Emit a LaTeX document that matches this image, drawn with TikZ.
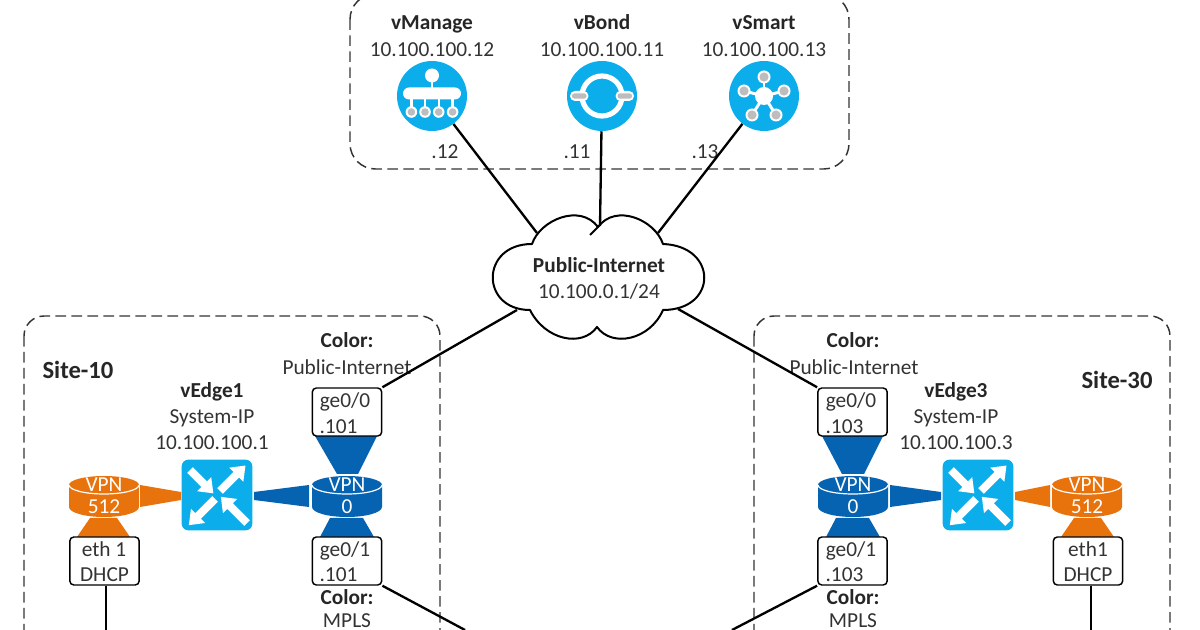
\documentclass[tikz,border=0pt]{standalone}
\usepackage{fontspec}
\setmainfont{Carlito}
\definecolor{iconcyan}{HTML}{0BAEEB}
\definecolor{vpnblue}{HTML}{0563B2}
\definecolor{vpnorange}{HTML}{E8720C}
\definecolor{icongray}{HTML}{BDBDBD}
\definecolor{inktext}{HTML}{333333}
\tikzset{
  link/.style={draw=black,line width=1.75pt},
  regionbox/.style={draw=black!80,line width=1.1pt,dash pattern=on 8pt off 4pt,rounded corners=19pt},
  txt/.style={anchor=base,inner sep=0pt,yshift=-1pt,text=inktext,font=\fontsize{16}{19}\selectfont},
  boldtxt/.style={txt,text=black!85,font=\fontsize{16}{19}\selectfont\bfseries},
  sitetxt/.style={txt,text=black!85,font=\fontsize{18.5}{22}\selectfont\bfseries},
  vpntxt/.style={txt,text=white},
  portbox/.style={draw=black,fill=white,line width=1.1pt,rounded corners=3pt,minimum width=52pt,minimum height=36pt,inner sep=0pt},
  ctrlicon/.style={circle,fill=iconcyan,minimum size=52.5pt,inner sep=0pt},
  routericon/.style={fill=iconcyan,rounded corners=5pt,minimum size=53pt,inner sep=0pt},
  whitefill/.style={fill=white},
  grayfill/.style={fill=icongray},
}
% cylinder: centre x, colour, name, lower label
\newcommand{\vpncyl}[4]{%
  \fill[#2] (#1-35,485) -- (#1-35,507) arc[start angle=180,end angle=0,x radius=35,y radius=10] -- (#1+35,485)
     arc[start angle=0,end angle=-180,x radius=35,y radius=9] -- cycle;
  \draw[white,line width=.9pt] (#1-35,485) arc[start angle=180,end angle=0,x radius=35,y radius=9];
  \node[vpntxt] (#3a) at (#1,490) {VPN};
  \node[vpntxt] (#3b) at (#1,512) {#4};
}
% white router arrow: tail x, tail y, rotation, length
\newcommand{\rarrow}[4]{%
  \begin{scope}[shift={(#1,#2)},rotate=#3]
    \fill[white] (0,-4) -- (#4-13,-4) -- (#4-13,-10) -- (#4,0) -- (#4-13,10) -- (#4-13,4) -- (0,4) -- cycle;
  \end{scope}
}
\newcommand{\routerglyphs}[2]{%
  \begin{scope}[shift={(#1,#2)}]
    \rarrow{-27}{-25}{-45}{33}
    \rarrow{3}{-4}{45}{36}
    \rarrow{-2}{4}{225}{37}
    \rarrow{30}{28}{135}{37}
  \end{scope}
}
\begin{document}
\begin{tikzpicture}[x=0.75pt,y=-0.75pt]
\clip (0,0) rectangle (1200,630);
\fill[white] (0,0) rectangle (1200,630);

% region boxes
\draw[regionbox] (350,-6) rectangle (849,169);
\draw[regionbox,rounded corners=15pt] (24,316) rectangle (440,680);
\draw[regionbox,rounded corners=15pt] (754,316) rectangle (1170,680);

% controllers
\node[ctrlicon] (vmanage) at (432,96) {};
\node[ctrlicon] (vbond) at (602,96) {};
\node[ctrlicon] (vsmart) at (764,96) {};

% vManage glyph
\begin{scope}[shift={(432,96)}]
  \fill[whitefill] (0,-20.5) circle[radius=7];
  \fill[whitefill] (-1.2,-15) rectangle (1.2,-4);
  \fill[whitefill,rounded corners=4.5pt] (-29,-8.5) rectangle (29,3.5);
  \foreach \dx in {-20.6,-7,6.7,20.6}{
    \fill[whitefill] (\dx-1.2,0) rectangle (\dx+1.2,14);
    \fill[whitefill] (\dx,16) circle[radius=5.8];
    \fill[grayfill] (\dx,16) circle[radius=3.8];
  }
\end{scope}
% vBond glyph
\begin{scope}[shift={(602,96)}]
  \draw[white,line width=3.9pt] (0,0) circle[radius=20];
  \foreach \sx in {-1,1}{
    \fill[whitefill,rounded corners=3.7pt] (\sx*13.5,-5) rectangle (\sx*32,5);
    \fill[grayfill,rounded corners=1.8pt] (\sx*15.5,-2.6) rectangle (\sx*30,2.6);
  }
\end{scope}
% vSmart glyph
\begin{scope}[shift={(764,96)}]
  \fill[whitefill] (0,0) circle[radius=9];
  \foreach \px/\py in {0/-19,-20/-5,20/-5,-12/19,12/19}{
    \draw[white,line width=2.2pt] (0,0) -- (\px,\py);
    \fill[whitefill] (\px,\py) circle[radius=6.5];
    \fill[grayfill] (\px,\py) circle[radius=4.6];
  }
\end{scope}

\node[boldtxt] (nmanage) at (432,28) {vManage};
\node[txt] (imanage) at (432,55) {10.100.100.12};
\node[boldtxt] (nbond) at (602,28) {vBond};
\node[txt] (ibond) at (602,55) {10.100.100.11};
\node[boldtxt] (nsmart) at (764,28) {vSmart};
\node[txt] (ismart) at (764,55) {10.100.100.13};
\node[txt] (d12) at (445,157) {.12};
\node[txt] (d11) at (577,157) {.11};
\node[txt] (d13) at (705,157) {.13};

% cloud
\coordinate (cTL) at (537,233);
\coordinate (cT) at (600,226);
\coordinate (cTR) at (658,233);
\coordinate (cBL) at (517,310);
\coordinate (cBR) at (678,309);
\draw[line width=1.5pt,fill=white,line join=round]
  (532,244) .. controls (540,220) and (580,203) .. (598,227)
  .. controls (616,203) and (655,220) .. (663,244)
  .. controls (718,246) and (718,310) .. (663,310)
  .. controls (650,340) and (612,348) .. (597,327)
  .. controls (582,348) and (545,340) .. (530,310)
  .. controls (480,310) and (480,244) .. (532,244) -- cycle;
\draw[line width=1.5pt] (598,227) -- (590,235);
\node[boldtxt] (cloudname) at (599,271) {Public-Internet};
\node[txt] (cloudip) at (599,297) {10.100.0.1/24};

% site labels
\node[sitetxt] (site10) at (78,377) {Site-10};
\node[sitetxt] (site30) at (1117,387) {Site-30};

% wedges
\fill[vpnblue] (315,436) -- (377,436) -- (358,474) -- (337,474) -- cycle;
\fill[vpnblue] (330,518) -- (363,518) -- (374,537) -- (320,537) -- cycle;
\fill[vpnblue] (254,492) -- (309,485) -- (309,507) -- (254,500) -- cycle;
\fill[vpnorange] (140,485) -- (181,492) -- (181,500) -- (140,507) -- cycle;
\fill[vpnorange] (90,518) -- (117,518) -- (130,537) -- (77,537) -- cycle;

\fill[vpnblue] (822,436) -- (883,436) -- (864,474) -- (842,474) -- cycle;
\fill[vpnblue] (836,518) -- (869,518) -- (880,537) -- (826,537) -- cycle;
\fill[vpnblue] (890,485) -- (941,492) -- (941,500) -- (890,507) -- cycle;
\fill[vpnorange] (1015,492) -- (1050,485) -- (1050,507) -- (1015,500) -- cycle;
\fill[vpnorange] (1074,518) -- (1101,518) -- (1114,537) -- (1061,537) -- cycle;

% VPN cylinders
\vpncyl{104}{vpnorange}{vpnA}{512}
\vpncyl{347}{vpnblue}{vpnB}{0}
\vpncyl{853}{vpnblue}{vpnC}{0}
\vpncyl{1087}{vpnorange}{vpnD}{512}

% routers
\node[routericon] (vedge1) at (217,495) {};
\routerglyphs{217}{495}
\node[routericon] (vedge3) at (978,495) {};
\routerglyphs{978}{495}

% port boxes
\node[portbox] (pa0) at (347,412) {};
\node[portbox] (pa1) at (347,561) {};
\node[portbox] (pae) at (104.5,561) {};
\node[portbox] (pb0) at (852.5,412) {};
\node[portbox] (pb1) at (852.5,561) {};
\node[portbox] (pbe) at (1088,561) {};

\node[txt] (t1) at (345,406) {ge0/0};
\node[txt] (t2) at (338.5,432) {.101};
\node[txt] (t3) at (345,555) {ge0/1};
\node[txt] (t4) at (338.5,580) {.101};
\node[txt] (t5) at (104,555) {eth 1};
\node[txt] (t6) at (104.5,580) {DHCP};
\node[txt] (t7) at (851,406) {ge0/0};
\node[txt] (t8) at (844.5,432) {.103};
\node[txt] (t9) at (851,555) {ge0/1};
\node[txt] (t10) at (844.5,580) {.103};
\node[txt] (t11) at (1088,555) {eth1};
\node[txt] (t12) at (1088,580) {DHCP};

% left site text
\node[boldtxt] (ca) at (347,346) {Color:};
\node[txt] (pia) at (347,373) {Public-Internet};
\node[boldtxt] (cb) at (347,603) {Color:};
\node[txt] (ma) at (347,626) {MPLS};
\node[boldtxt] (ne1) at (212,396) {vEdge1};
\node[txt] (se1) at (212,422) {System-IP};
\node[txt] (ie1) at (212,448) {10.100.100.1};
% right site text
\node[boldtxt] (cc) at (853,346) {Color:};
\node[txt] (pic) at (854,373) {Public-Internet};
\node[boldtxt] (cd) at (853,603) {Color:};
\node[txt] (mc) at (853,626) {MPLS};
\node[boldtxt] (ne3) at (956,396) {vEdge3};
\node[txt] (se3) at (956,422) {System-IP};
\node[txt] (ie3) at (956,448) {10.100.100.3};

% connectors
\coordinate (offL) at (465,630);
\coordinate (offR) at (732,630);
\coordinate (offEa) at (106,640);
\coordinate (offEb) at (1091,640);
\draw[link] (vmanage) -- (cTL);
\draw[link] (vbond) -- (cT);
\draw[link] (vsmart) -- (cTR);
\draw[link] (pa0.north east) -- (cBL);
\draw[link] (pb0.north west) -- (cBR);
\draw[link] (pa1.south east) -- (offL);
\draw[link] (pb1.south west) -- (offR);
\draw[link] (pae.south -| offEa) -- (offEa);
\draw[link] (pbe.south -| offEb) -- (offEb);
\end{tikzpicture}
\end{document}
